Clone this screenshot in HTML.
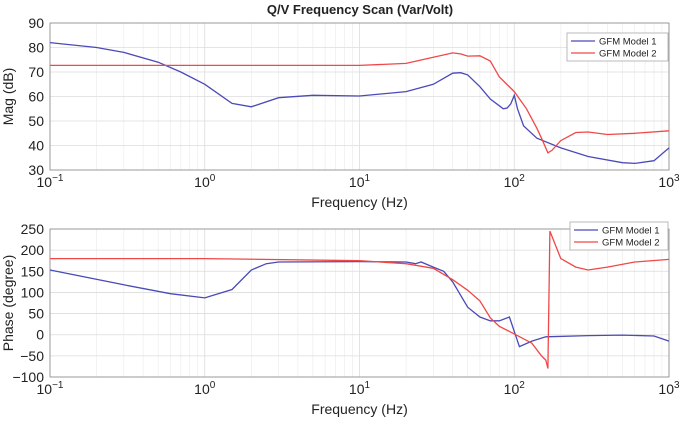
<!DOCTYPE html>
<html><head><meta charset="utf-8"><style>
body{margin:0;background:#fff;}
svg text{font-family:"Liberation Sans",Arial,sans-serif;}
</style></head><body>
<svg id="c" width="685" height="418" xmlns="http://www.w3.org/2000/svg"></svg>
<script>
const magF1=[0.1,0.2,0.3,0.5,0.7,1,1.5,2,3,5,10,20,30,40,45,50,60,70,85,90,95,100,105,115,140,200,300,500,600,800,1000];
const magV1=[82,80,78,74,70,65,57.2,55.8,59.5,60.5,60.2,62,65,69.5,69.7,68.8,64,59,55,55.3,57,60.5,55,48,43,39,35.5,33,32.7,33.8,39];
const magF2=[0.1,10,20,30,40,45,50,60,70,80,100,120,140,150,165,175,200,250,300,400,600,1000];
const magV2=[72.7,72.7,73.5,76,77.8,77.4,76.5,76.6,74.5,68,62,55,47,43,37,38,42,45.3,45.5,44.5,45,46];
const phF1=[0.1,0.3,0.6,1,1.5,2,2.5,3,10,20,23,25,30,35,40,50,60,70,80,93,108,130,160,300,500,800,1000];
const phV1=[153,118,97,87,107,153,168,172,173,172,168,172,160,150,125,65,42,33,33,42,-28,-15,-5,-2,-1,-3,-15];
const phF2=[0.1,1,10,20,30,40,50,60,70,80,100,130,150,160,165,170,200,250,300,400,600,1000];
const phV2=[180,180,175,168,157,130,105,80,40,20,2,-20,-50,-60,-80,245,180,160,153,160,172,178];
const magTicks=[30,40,50,60,70,80,90];
const phTicks=[-100,-50,0,50,100,150,200,250];
const xTicks=[-1,0,1,2,3];
const seriesNames=["GFM Model 1","GFM Model 2"];
const colors=["#4a4ab8","#f04848"];
const NS="http://www.w3.org/2000/svg";
const svg=document.getElementById('c');
function el(t,a,p){const e=document.createElementNS(NS,t);for(const k in a)e.setAttribute(k,a[k]);(p||svg).appendChild(e);return e;}
const L=50,R=669;
function xs(f){return L+(Math.log10(f)+1)/4*(R-L);}
function panel(name,top,bot,ymin,ymax,ticks,ylabel,F1,V1,F2,V2,legY,legX){
  const g=el('g',{});
  
  
  const ys=v=>bot-(v-ymin)/(ymax-ymin)*(bot-top);
  el('rect',{x:L,y:top,width:R-L,height:bot-top,fill:'#fff'},g);
  for(let d=-1;d<3;d++)for(let m=2;m<10;m++){const x=xs(m*Math.pow(10,d));el('line',{x1:x,x2:x,y1:top,y2:bot,stroke:'#ececec','stroke-width':0.7},g);}
  xTicks.forEach(t=>{const x=xs(Math.pow(10,t));el('line',{x1:x,x2:x,y1:top,y2:bot,stroke:'#dcdcdc','stroke-width':0.8},g);
    const tx=el('text',{x:x,y:bot+17,'font-size':14,'text-anchor':'middle',fill:'#222'},g);
    
    tx.textContent='10';const s=el('tspan',{dy:-6,'font-size':10},tx);s.textContent=String(t).replace('-','\u2212');});
  ticks.forEach(t=>{const y=ys(t);el('line',{x1:L,x2:R,y1:y,y2:y,stroke:'#dcdcdc','stroke-width':0.8},g);
    const tx=el('text',{x:L-6,y:y+5,'font-size':14,'text-anchor':'end',fill:'#222'},g);
    
    tx.textContent=String(t).replace('-','\u2212');});
  el('rect',{x:L,y:top,width:R-L,height:bot-top,fill:'none',stroke:'#888','stroke-width':0.8},g);
  [[F1,V1],[F2,V2]].forEach((s,i)=>{const d=s[0].map((f,j)=>(j?'L':'M')+xs(f).toFixed(1)+','+ys(s[1][j]).toFixed(1)).join('');
    const p=el('path',{d:d,fill:'none',stroke:colors[i],'stroke-width':1.3},g);
    });
  const yl=el('text',{x:0,y:0,'font-size':14,'text-anchor':'middle',fill:'#222',transform:`translate(13,${(top+bot)/2}) rotate(-90)`},g);
  yl.textContent=ylabel;
  const xl=el('text',{x:(L+R)/2,y:bot+37,'font-size':14,'text-anchor':'middle',fill:'#222'},g);
  xl.textContent='Frequency (Hz)';
  const lg=el('g',{},g);
  
  el('rect',{x:legX,y:legY,width:669-legX-1,height:28,fill:'#fff',stroke:'#aaa','stroke-width':0.8},lg);
  seriesNames.forEach((n,i)=>{const yy=legY+8+i*12;
    el('line',{x1:legX+4,x2:legX+28,y1:yy,y2:yy,stroke:colors[i],'stroke-width':1.3},lg);
    const t=el('text',{x:legX+32,y:yy+3.5,'font-size':9.5,fill:'#222'},lg);
    t.textContent=n;});
}
const title=el('text',{x:360,y:14,'font-size':13,'font-weight':'bold','text-anchor':'middle',fill:'#222'});

title.textContent='Q/V Frequency Scan (Var/Volt)';
panel('magnitude-plot',23,170,30,90,magTicks,'Mag (dB)',magF1,magV1,magF2,magV2,33,567);
panel('phase-plot',229,377,-100,250,phTicks,'Phase (degree)',phF1,phV1,phF2,phV2,222,570);
</script>
</body></html>
